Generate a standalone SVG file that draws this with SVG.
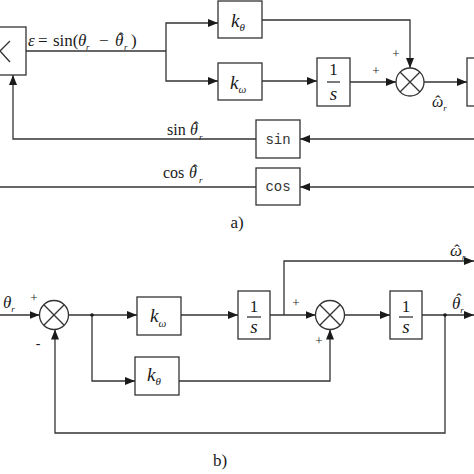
<svg xmlns="http://www.w3.org/2000/svg" width="474" height="474" viewBox="0 0 474 474">
<defs>
<marker id="ar" viewBox="0 0 10 8" refX="10" refY="4" markerWidth="10" markerHeight="8" markerUnits="userSpaceOnUse" orient="auto">
<path d="M0,0 L10,4 L0,8 Z" fill="#1a1a1a"/>
</marker>
</defs>
<style>
.ln{fill:none;stroke:#333;stroke-width:1.3}
.bx{fill:#fff;stroke:#333;stroke-width:1.3}
.t{font-family:"Liberation Serif","Times New Roman",serif;fill:#1a1a1a}
.i{font-style:italic}
.h{font-family:"Liberation Serif","Times New Roman",serif;fill:#1a1a1a;font-size:16px;text-anchor:middle}
.m{font-family:"Liberation Mono","DejaVu Sans Mono",monospace;fill:#333;font-size:14px}
.ar{marker-end:url(#ar)}
</style>
<rect width="474" height="474" fill="#fff"/>

<!-- ===== a) ===== -->
<g id="connectors-a">
<path class="ln" d="M26,51 H166"/>
<path class="ln ar" d="M166,51 V23 H218"/>
<path class="ln ar" d="M166,51 V81 H218"/>
<path class="ln ar" d="M262,81 H317"/>
<path class="ln ar" d="M350,82 H396"/>
<path class="ln ar" d="M262,20 H410 V68"/>
<path class="ln ar" d="M424,82 H467"/>
<path class="ln ar" d="M474,139 H300"/>
<path class="ln ar" d="M256,139 H13 V75"/>
<path class="ln ar" d="M474,187 H300"/>
<path class="ln" d="M256,187 H0"/>
</g>
<g id="mult-a">
<rect class="bx" x="-20" y="27" width="46" height="48"/>
<path class="ln" d="M10,41 L0,51 L10,62"/>
</g>
<g id="label-eps">
<text class="t" y="46" font-size="17"><tspan class="i" x="28">ε</tspan><tspan x="38">=</tspan><tspan x="53">sin(</tspan><tspan class="i" x="78">θ</tspan><tspan class="i" x="86" y="50" font-size="9">r</tspan><tspan x="99" y="46">−</tspan><tspan class="i" x="115">θ</tspan><tspan class="i" x="124" y="50" font-size="9">r</tspan><tspan x="131" y="46">)</tspan></text>
<text class="h" x="121" y="44">ˆ</text>
</g>
<g id="ktheta-a">
<rect class="bx" x="218" y="1" width="44" height="37"/>
<text class="t i" x="231" y="27" font-size="19">k<tspan y="31" font-size="11">θ</tspan></text>
</g>
<g id="komega-a">
<rect class="bx" x="218" y="63" width="44" height="37"/>
<text class="t i" x="230" y="89" font-size="19">k<tspan y="93" font-size="11">ω</tspan></text>
</g>
<g id="int-a">
<rect class="bx" x="317" y="58" width="33" height="48"/>
<text class="t" x="333.5" y="75" font-size="17" text-anchor="middle">1</text>
<path class="ln" d="M327,82 H340"/>
<text class="t i" x="333.5" y="100" font-size="19" text-anchor="middle">s</text>
</g>
<g id="sum-a">
<circle class="bx" cx="410" cy="82" r="14"/>
<path class="ln" d="M400,72 L420,92 M420,72 L400,92"/>
<text class="t" x="396" y="58" font-size="13" text-anchor="middle">+</text>
<text class="t" x="376" y="75" font-size="13" text-anchor="middle">+</text>
</g>
<g id="label-omega-a">
<text class="t i" x="432" y="107" font-size="16">ω<tspan y="111" font-size="9">r</tspan></text>
<text class="h" x="438" y="107">ˆ</text>
</g>
<g id="block-right-a">
<rect class="bx" x="467" y="58" width="20" height="48"/>
</g>
<g id="sin-box">
<rect class="bx" x="256" y="120" width="44" height="38"/>
<text class="m" x="278" y="144" text-anchor="middle">sin</text>
</g>
<g id="cos-box">
<rect class="bx" x="256" y="168" width="44" height="37"/>
<text class="m" x="278" y="191" text-anchor="middle">cos</text>
</g>
<g id="label-sin">
<text class="t" x="167" y="135" font-size="16">sin<tspan class="i" x="190">θ</tspan><tspan class="i" x="199" y="140" font-size="9">r</tspan></text>
<text class="h" x="196" y="133">ˆ</text>
</g>
<g id="label-cos">
<text class="t" x="163" y="178" font-size="16">cos<tspan class="i" x="189">θ</tspan><tspan class="i" x="199" y="183" font-size="9">r</tspan></text>
<text class="h" x="195" y="176">ˆ</text>
</g>
<text class="t" x="237" y="228" font-size="17" text-anchor="middle">a)</text>

<!-- ===== b) ===== -->
<g id="connectors-b">
<path class="ln ar" d="M0,315 H39.5"/>
<path class="ln ar" d="M68.5,315 H137"/>
<path class="ln ar" d="M181,315 H238"/>
<path class="ln ar" d="M270,315 H315.5"/>
<path class="ln ar" d="M284,315 V261 H474"/>
<path class="ln ar" d="M344.5,315 H390"/>
<path class="ln ar" d="M422,315 H474"/>
<path class="ln ar" d="M445,315 V433 H55 V329.5"/>
<path class="ln ar" d="M92,315 V381 H135"/>
<path class="ln ar" d="M179,381 H330 V329.5"/>
<circle cx="92" cy="315" r="1.8" fill="#1a1a1a"/>
<circle cx="445" cy="315" r="1.8" fill="#1a1a1a"/>
</g>
<g id="label-theta-in">
<text class="t i" x="3" y="308" font-size="17">θ<tspan y="312" font-size="9">r</tspan></text>
</g>
<g id="sum-b1">
<circle class="bx" cx="54" cy="315" r="14.5"/>
<path class="ln" d="M43.8,304.8 L64.2,325.2 M64.2,304.8 L43.8,325.2"/>
<text class="t" x="34" y="302" font-size="13" text-anchor="middle">+</text>
<text class="t" x="38" y="348" font-size="14" text-anchor="middle">-</text>
</g>
<g id="komega-b">
<rect class="bx" x="137" y="297" width="44" height="38"/>
<text class="t i" x="150" y="322" font-size="19">k<tspan y="327" font-size="11">ω</tspan></text>
</g>
<g id="int-b1">
<rect class="bx" x="238" y="291" width="32" height="48"/>
<text class="t" x="254" y="312" font-size="17" text-anchor="middle">1</text>
<path class="ln" d="M247,317 H261"/>
<text class="t i" x="254" y="333" font-size="19" text-anchor="middle">s</text>
</g>
<g id="sum-b2">
<circle class="bx" cx="330" cy="315" r="14.5"/>
<path class="ln" d="M319.8,304.8 L340.2,325.2 M340.2,304.8 L319.8,325.2"/>
<text class="t" x="296" y="307" font-size="13" text-anchor="middle">+</text>
<text class="t" x="319" y="345" font-size="13" text-anchor="middle">+</text>
</g>
<g id="int-b2">
<rect class="bx" x="390" y="291" width="32" height="48"/>
<text class="t" x="406" y="312" font-size="17" text-anchor="middle">1</text>
<path class="ln" d="M399,317 H413"/>
<text class="t i" x="406" y="333" font-size="19" text-anchor="middle">s</text>
</g>
<g id="ktheta-b">
<rect class="bx" x="135" y="357" width="44" height="38"/>
<text class="t i" x="147" y="381" font-size="19">k<tspan y="385" font-size="11">θ</tspan></text>
</g>
<g id="label-omega-b">
<text class="t i" x="450" y="256" font-size="17">ω<tspan y="260" font-size="9">r</tspan></text>
<text class="h" x="457" y="256">ˆ</text>
</g>
<g id="label-theta-out">
<text class="t i" x="452" y="309" font-size="17">θ<tspan y="313" font-size="9">r</tspan></text>
<text class="h" x="459" y="305">ˆ</text>
</g>
<text class="t" x="220" y="466" font-size="17" text-anchor="middle">b)</text>
</svg>
